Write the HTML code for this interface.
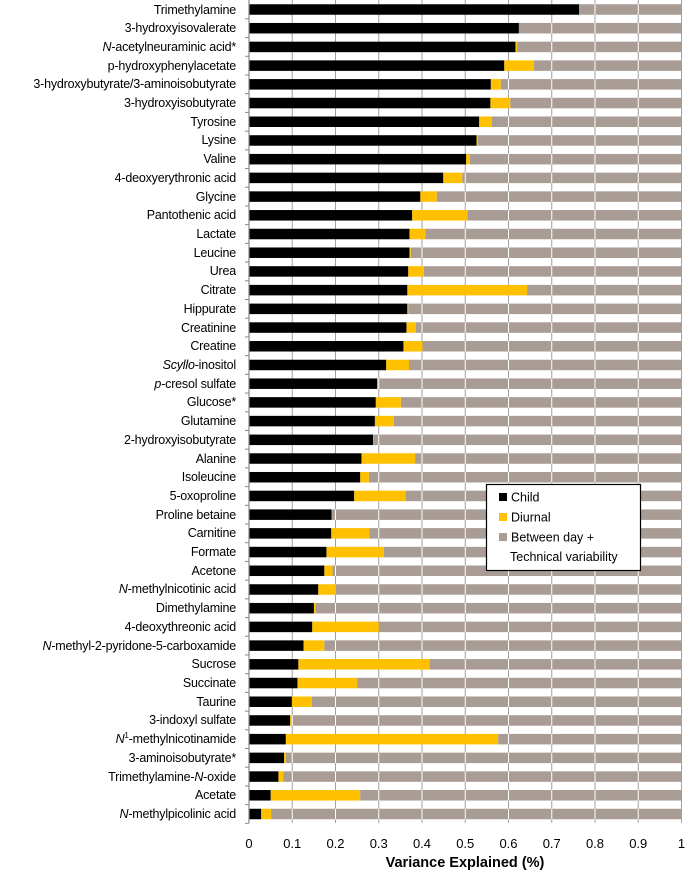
<!DOCTYPE html>
<html><head><meta charset="utf-8"><style>
html,body{margin:0;padding:0;background:#fff;}
svg{display:block;font-family:"Liberation Sans",sans-serif;}
</style></head><body>
<svg id="chart" width="685" height="873" viewBox="0 0 685 873"></svg>
<script>
const categories = ["Trimethylamine","3-hydroxyisovalerate","<i>N</i>-acetylneuraminic acid*","p-hydroxyphenylacetate","3-hydroxybutyrate/3-aminoisobutyrate","3-hydroxyisobutyrate","Tyrosine","Lysine","Valine","4-deoxyerythronic acid","Glycine","Pantothenic acid","Lactate","Leucine","Urea","Citrate","Hippurate","Creatinine","Creatine","<i>Scyllo</i>-inositol","<i>p</i>-cresol sulfate","Glucose*","Glutamine","2-hydroxyisobutyrate","Alanine","Isoleucine","5-oxoproline","Proline betaine","Carnitine","Formate","Acetone","<i>N</i>-methylnicotinic acid","Dimethylamine","4-deoxythreonic acid","<i>N</i>-methyl-2-pyridone-5-carboxamide","Sucrose","Succinate","Taurine","3-indoxyl sulfate","<i>N</i><sup>1</sup>-methylnicotinamide","3-aminoisobutyrate*","Trimethylamine-<i>N</i>-oxide","Acetate","<i>N</i>-methylpicolinic acid"];
const childValues = [0.763,0.624,0.616,0.590,0.559,0.558,0.532,0.526,0.502,0.449,0.396,0.377,0.371,0.371,0.368,0.366,0.366,0.364,0.357,0.317,0.296,0.293,0.291,0.287,0.260,0.257,0.243,0.191,0.190,0.179,0.174,0.160,0.150,0.146,0.126,0.114,0.112,0.099,0.095,0.085,0.081,0.068,0.050,0.028];
const diurnalValues = [0.000,0.000,0.004,0.069,0.023,0.046,0.029,0.003,0.009,0.044,0.038,0.128,0.037,0.003,0.036,0.277,0.002,0.022,0.044,0.053,0.001,0.058,0.044,0.002,0.124,0.020,0.119,0.001,0.088,0.133,0.019,0.041,0.004,0.154,0.048,0.303,0.138,0.046,0.003,0.491,0.004,0.011,0.207,0.023];
const tickLabels = ["0","0.1","0.2","0.3","0.4","0.5","0.6","0.7","0.8","0.9","1"];

const NS="http://www.w3.org/2000/svg";
const svg=document.getElementById('chart');
const X0=249, X1=681.5, TOP=0, BOTTOM=823;
const firstC=9.5, step=(814-9.5)/(categories.length-1), bh=10.5;
const xs=v=>X0+v*(X1-X0);
const ys=i=>firstC+i*step;
function mk(tag,attrs,parent){const e=document.createElementNS(NS,tag);for(const k in attrs)e.setAttribute(k,attrs[k]);(parent||svg).appendChild(e);return e;}

// gridlines
tickLabels.forEach((t,i)=>{
  const v=parseFloat(t);
  const g=mk('line',{x1:xs(v),x2:xs(v),y1:TOP,y2:BOTTOM,stroke:'#a0a0a0','stroke-width':1});
  
  
  const tl=mk('text',{x:xs(v),y:848,'text-anchor':'middle','font-size':13,fill:'#000'});
  tl.textContent=t;
  
  
});

// bars
categories.forEach((c,i)=>{
  const y=ys(i)-bh/2;
  const c1=childValues[i], d=diurnalValues[i];
  const g=mk('g',{});
  
  
  const rest=mk('rect',{x:xs(c1+d),y:y,width:xs(1)-xs(c1+d),height:bh,fill:'#a89c94'},g);
  
  
  for(let k=1;k<10;k++){const v=k/10;if(v>c1+d)mk('line',{x1:xs(v),x2:xs(v),y1:y,y2:y+bh,stroke:'#fff','stroke-width':1},g);}
  const dr=mk('rect',{x:xs(c1),y:y,width:xs(c1+d)-xs(c1),height:bh,fill:'#ffc000'},g);
  
  
  const cr=mk('rect',{x:xs(0),y:y,width:xs(c1)-xs(0),height:bh,fill:'#000'},g);
  
  
  const fo=mk('foreignObject',{x:0,y:ys(i)-9,width:236,height:18});
  
  
  const div=document.createElement('div');
  div.style.cssText='font:12.5px "Liberation Sans",sans-serif;text-align:right;white-space:nowrap;line-height:18px;letter-spacing:-0.2px;';
  div.innerHTML=c.replace('<sup>','<sup style="font-size:8px;vertical-align:5px;line-height:0">');
  fo.appendChild(div);
  mk('line',{x1:X0-4,x2:X0,y1:ys(i)+step/2,y2:ys(i)+step/2,stroke:'#888'});
});
const ax=mk('line',{x1:X0,x2:X0,y1:TOP,y2:BOTTOM,stroke:'#888','stroke-width':1.2});



const title=mk('text',{x:465,y:867,'text-anchor':'middle','font-size':14.5,'font-weight':'bold'});
title.textContent='Variance Explained (%)';



// legend
const lg=mk('g',{});


mk('rect',{x:486.5,y:484.5,width:154,height:86,fill:'#fff',stroke:'#000','stroke-width':1.2},lg);
const items=[['Child','#000',497],['Diurnal','#ffc000',517],['Between day +','#a89c94',537]];
items.forEach(([t,col,yy])=>{
  const r=mk('rect',{x:499,y:yy-4,width:8,height:8,fill:col},lg);
  
  
  const tx=mk('text',{x:511,y:yy+4.5,'font-size':12.5},lg);
  tx.textContent=t;
  
  
});
const t2=mk('text',{x:510,y:561,'font-size':12.5},lg);
t2.textContent='Technical variability';


</script>
</body></html>
